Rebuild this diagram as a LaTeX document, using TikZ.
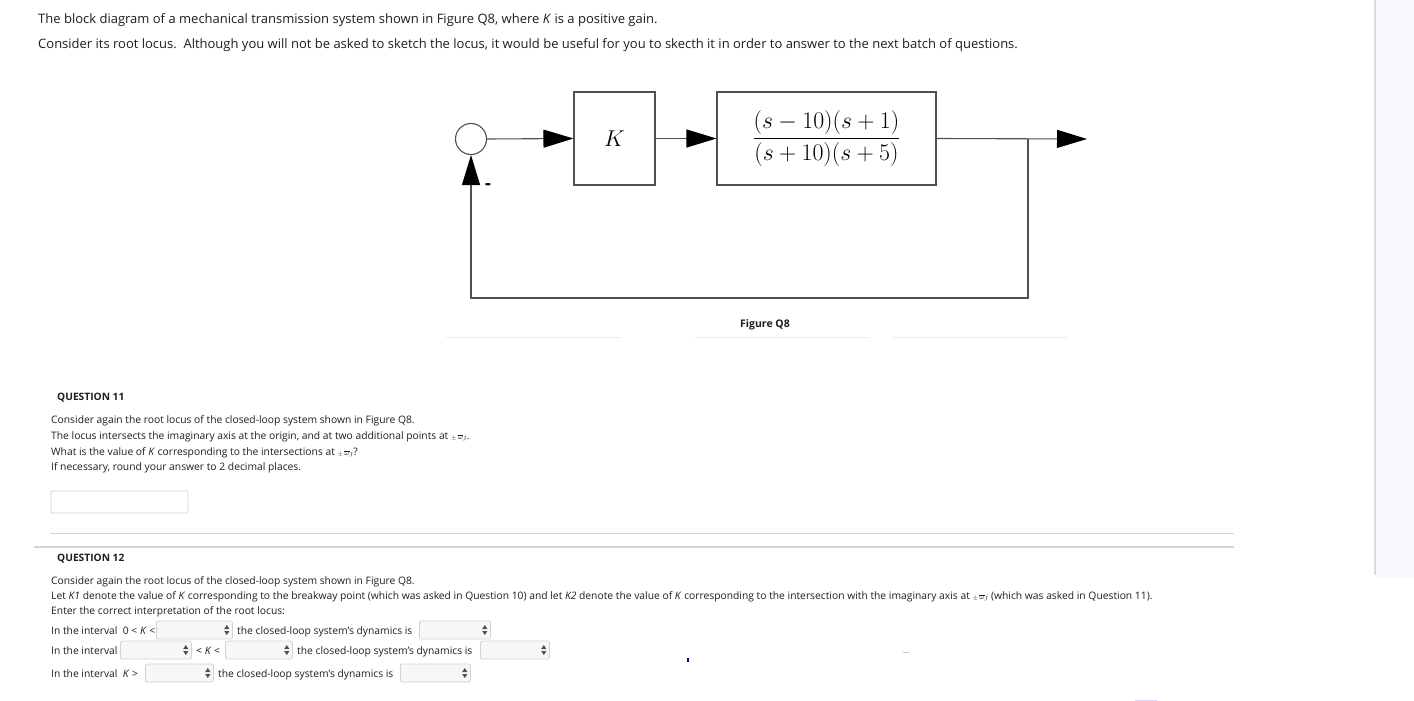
\documentclass[tikz,border=0pt]{standalone}
\usepackage{amsmath}
\usepackage{graphicx}
\usepackage{fontspec}
\setmainfont{Open Sans}
\usetikzlibrary{arrows.meta,positioning,calc}
\frenchspacing
\definecolor{bdgray}{HTML}{505050}
\definecolor{txtcol}{HTML}{1E1E1E}
\definecolor{boxgray}{HTML}{D2D2D2}
\definecolor{rulegray}{HTML}{ECECEC}
\definecolor{sepgray}{HTML}{D6D6D6}
\definecolor{panelbg}{HTML}{F7F8FB}
\definecolor{panelline}{HTML}{D8DAE0}
\tikzset{
  bdblock/.style={draw=bdgray,line width=1.1pt,inner sep=0pt,minimum height=93pt},
  bdsum/.style={circle,draw=bdgray,line width=1.1pt,minimum size=31pt,inner sep=0pt},
  bdarc/.style={draw=bdgray,line width=1.1pt,-{Triangle[length=30pt,width=18pt,color=black]}},
  bdline/.style={draw=bdgray,line width=1.1pt},
  toptxt/.style={anchor=base west,inner sep=0pt,text=txtcol,font=\fontsize{13}{15}\selectfont},
  qtxt/.style={anchor=base west,inner sep=0pt,text=txtcol,font=\fontsize{10.3}{12}\selectfont},
  qtitle/.style={anchor=base west,inner sep=0pt,text=txtcol,font=\fontsize{10.2}{12}\selectfont\bfseries},
  selbox/.style={draw=boxgray,fill=white!97!black,rounded corners=2pt,minimum height=18pt,inner sep=0pt,line width=0.8pt}
}
\newcommand{\pmwj}{$\scriptstyle{\scriptscriptstyle\pm}\,\overline{\omega}j$}

\begin{document}
\begin{tikzpicture}[x=1pt,y=-1pt,>=latex]
  \fill[white] (0,0) rectangle (1414,701);
  \useasboundingbox (0,0) rectangle (1414,701);
  % side panel
  \fill[panelbg] (1376,0) rectangle (1414,578);
  \draw[panelline,line width=2pt] (1375,0) -- (1375,575);

  % header
  \node[toptxt] (head1) at (38,24) {The block diagram of a mechanical transmission system shown in Figure Q8, where \textit{K} is a positive gain.};
  \node[toptxt] (head2) at (38,49) {Consider its root locus.\ \ Although you will not be asked to sketch the locus, it would be useful for you to skecth it in order to answer to the next batch of questions.};

  % block diagram
  \node[bdsum] (sum) at (471,139) {};
  \node[bdblock,minimum width=81pt] (kblk) at (614.5,138.5) {\scalebox{1.1}{\fontsize{20}{24}\selectfont$K$}};
  \node[bdblock,minimum width=219pt] (plant) at (826.5,138.5) {\scalebox{1.15}{\fontsize{20}{24}\selectfont$\dfrac{(s-10)(s+1)}{(s+10)(s+5)}$}};
  \coordinate (branch) at (1028,139);
  \coordinate (outtip) at (1087,139);
  \coordinate (fbcorner) at (1028,298);
  \draw[bdarc] (sum.east) -- (kblk.west);
  \draw[bdarc] (kblk.east) -- (plant.west);
  \draw[bdarc] (plant.east) -- (outtip);
  \draw[bdarc] (branch) -- (fbcorner) -| (sum.south);
  \node[inner sep=0pt,font=\fontsize{18}{18}\selectfont\bfseries] (minus) at (488,187) {-};
  \node[inner sep=0pt,text=txtcol,font=\fontsize{10.5}{12}\selectfont\bfseries] (figlab) at (765,325) {Figure Q8};
  \foreach \xa/\xb in {446/621,695/870,893/1068}
    \draw[rulegray,line width=1pt] (\xa,337) -- (\xb,337);

  % question 11
  \node[qtitle] (q11) at (57,400) {QUESTION 11};
  \node[qtxt] (q11a) at (51,423) {Consider again the root locus of the closed-loop system shown in Figure Q8.};
  \node[qtxt] (q11b) at (51,439) {The locus intersects the imaginary axis at the origin, and at two additional points at \pmwj.};
  \node[qtxt] (q11c) at (51,455) {What is the value of \textit{K} corresponding to the intersections at \pmwj?};
  \node[qtxt] (q11d) at (51,470) {If necessary, round your answer to 2 decimal places.};
  \draw[boxgray,rounded corners=2pt,line width=0.8pt] (51,491) rectangle (188,513);
  \draw[rulegray!80!gray,line width=1pt] (50,533) -- (1234,533);
  \draw[sepgray,line width=1.5pt] (34,547) -- (1234,547);

  % question 12
  \node[qtitle] (q12) at (57,561) {QUESTION 12};
  \node[qtxt] (q12a) at (51,584.5) {Consider again the root locus of the closed-loop system shown in Figure Q8.};
  \node[qtxt] (q12b) at (51,599.5) {Let \textit{K1} denote the value of \textit{K} corresponding to the breakway point (which was asked in Question 10) and let \textit{K2} denote the value of \textit{K} corresponding to the intersection with the imaginary axis at \pmwj{} (which was asked in Question 11).};
  \node[qtxt] (q12c) at (51,614.5) {Enter the correct interpretation of the root locus:};
  \node[qtxt] (r1a) at (51,634) {In the interval\ \ 0 < \textit{K} <};
  \node[qtxt] (r1b) at (237,634) {the closed-loop system's dynamics is};
  \node[qtxt] (r2a) at (51,654) {In the interval};
  \node[qtxt] (r2b) at (196,654) {< \textit{K} <};
  \node[qtxt] (r2c) at (297,654) {the closed-loop system's dynamics is};
  \node[qtxt] (r3a) at (51,677) {In the interval\ \ \textit{K} >};
  \node[qtxt] (r3b) at (218,677) {the closed-loop system's dynamics is};
  \foreach \nm/\xa/\xb/\yc in {s1/156/232/630,s2/419/490/630,s3/120/191/650,s4/225/292/650,s5/480/549/650,s6/145/213/673,s7/400/470/673} {
    \node[selbox,minimum width={\xb-\xa},anchor=west] (\nm) at (\xa,\yc) {};
    \fill[bdgray] ($(\nm.east)+(-8.6,-1)$) -- ($(\nm.east)+(-3.4,-1)$) -- ($(\nm.east)+(-6,-5)$) -- cycle;
    \fill[bdgray] ($(\nm.east)+(-8.6,1)$) -- ($(\nm.east)+(-3.4,1)$) -- ($(\nm.east)+(-6,5)$) -- cycle;
  }
  % stray marks
  \fill[blue!70!black] (687,658) rectangle (689,662);
  \draw[gray!40,line width=0.6pt] (903,652) -- (909,652);
  \draw[blue!15,line width=1pt] (1135,700) -- (1157,700);
\end{tikzpicture}
\end{document}
